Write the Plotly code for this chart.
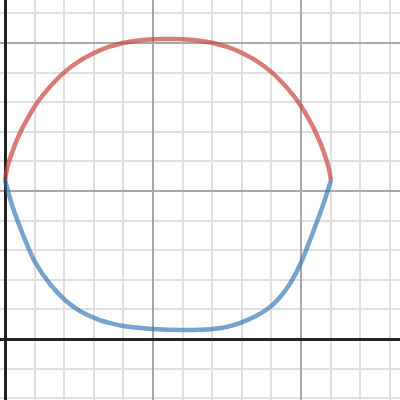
import plotly.graph_objects as go

# red curve (upper)
red_x = [0.0, 0.020, 0.054, 0.101, 0.135, 0.216, 0.284, 0.405, 0.507, 0.595, 0.696, 0.797, 0.899,
         1.0, 1.101, 1.203, 1.304, 1.405, 1.507, 1.608, 1.696, 1.797, 1.919, 1.986, 2.068,
         2.101, 2.149, 2.182, 2.203]
red_y = [1.074, 1.176, 1.277, 1.392, 1.459, 1.595, 1.682, 1.807, 1.882, 1.930, 1.972, 2.0, 2.017,
         2.026, 2.027, 2.026, 2.017, 2.0, 1.972, 1.930, 1.882, 1.807, 1.682, 1.595, 1.459,
         1.392, 1.277, 1.176, 1.074]

# blue curve (lower)
blue_x = [0.0, 0.054, 0.122, 0.203, 0.304, 0.405, 0.507, 0.622, 0.709, 0.797, 1.0, 1.203, 1.405,
          1.507, 1.595, 1.696, 1.791, 1.865, 1.932, 1.993, 2.074, 2.142, 2.203]
blue_y = [1.074, 0.885, 0.703, 0.520, 0.372, 0.264, 0.189, 0.135, 0.108, 0.088, 0.068, 0.061, 0.068,
          0.084, 0.111, 0.155, 0.216, 0.291, 0.385, 0.500, 0.703, 0.885, 1.074]

fig = go.Figure()
fig.add_trace(go.Scatter(x=red_x, y=red_y, mode="lines",
                         line=dict(color="rgba(199,68,64,0.7)", width=4.5, shape="spline")))
fig.add_trace(go.Scatter(x=blue_x, y=blue_y, mode="lines",
                         line=dict(color="rgba(45,112,179,0.65)", width=4.5, shape="spline")))

axis_style = dict(
    showticklabels=False, ticks="",
    showgrid=True, dtick=1, tick0=0, gridcolor="#a8a8a8", gridwidth=1.5,
    minor=dict(dtick=0.2, tick0=0, showgrid=True, gridcolor="#e0e0e0", gridwidth=1.5),
    zeroline=True, zerolinecolor="#222222", zerolinewidth=2.5,
    showline=False, fixedrange=True,
)

fig.update_layout(
    width=400, height=400,
    margin=dict(l=0, r=0, t=0, b=0),
    paper_bgcolor="white", plot_bgcolor="white",
    showlegend=False,
    xaxis=dict(range=[-0.034, 2.669], **axis_style),
    yaxis=dict(range=[-0.412, 2.291], **axis_style),
)

# drop the browser's default body margin so the plot sits at (0, 0)
fig.write_html("out.html", config={"displayModeBar": False},
               post_script="document.body.style.margin='0';")
